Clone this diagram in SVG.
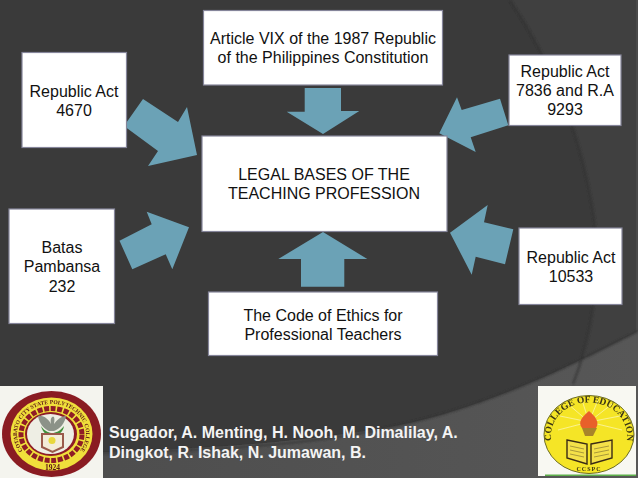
<svg xmlns="http://www.w3.org/2000/svg" width="638" height="478" viewBox="0 0 638 478">
<style>
.box{fill:#fff;stroke:#85859a;stroke-width:1.2}
.t{font-family:"Liberation Sans",Arial,sans-serif;font-size:16px;fill:#111;text-anchor:middle}
.arrow{fill:#6ba2b6}
.sub{font-family:"Liberation Sans",Arial,sans-serif;font-size:16px;font-weight:bold;fill:#f4f4f4}
.seal{font-family:"Liberation Serif",serif;font-weight:bold}
.ray{stroke:#fbf5a8;stroke-width:.8}
</style>
<defs>
<linearGradient id="sw" x1="0" y1="0" x2="1" y2="0"><stop offset="0" stop-color="#4c4c4c"/><stop offset="1" stop-color="#575757"/></linearGradient>
<filter id="soft" x="-5%" y="-5%" width="110%" height="110%"><feGaussianBlur stdDeviation="0.45"/></filter>
<filter id="soft2" x="-5%" y="-5%" width="110%" height="110%"><feGaussianBlur stdDeviation="0.8"/></filter>
<path id="arcL" d="M23.200 451A34.500 30 0 1 1 79.800 451"/>
<path id="arcR" d="M553 446A38 33 0 1 1 625 446"/>
</defs>
<g id="background">
<rect width="638" height="478" fill="#3a3a3a"/>
<path d="M510 0C550 60 582 130 595 225C600 280 592 335 573 384L638 332V0Z" fill="#404040"/>
<rect x="636" y="0" width="2" height="335" fill="#4a4a4a"/>
<path d="M0 455C130 452 280 448 400 425C480 408 560 372 638 331V478H0Z" fill="url(#sw)"/>
<g filter="url(#soft2)" fill="none">
<path d="M510 0C550 60 582 130 595 225C600 280 592 335 573 384" stroke="#323232" stroke-width="1.6"/>
<path d="M100 453C240 450 330 442 400 425C480 408 560 372 638 331" stroke="#343434" stroke-width="1.6"/>
</g>
</g>
<g id="connectors">
<polygon class="arrow" points="304.700,88 341,88 341,111 359.300,111 323,134 286.700,111.700 304.700,111.700"/>
<polygon class="arrow" points="124,126 143,99 178,122 187,107 197,155 148,166 158,151"/>
<polygon class="arrow" points="119.500,240.700 151.700,224.300 146.700,211.700 189,227.300 172.300,269.300 165.700,254.300 132.300,269.300"/>
<polygon class="arrow" points="508.300,125.300 500,98.700 461.700,110 457,97.300 439.300,133.300 475.700,152 470.700,137.300"/>
<polygon class="arrow" points="513.300,229.300 484,222.300 487.700,205 450,232.700 471.700,274.700 475.700,256.700 505,264.300"/>
<polygon class="arrow" points="323,232 367.300,259 344.300,259 344.300,286.700 301,286.700 301,259 278.300,259"/>
</g>
<g id="node-article">
<rect class="box" x="203.500" y="10.500" width="239" height="74.500"/>
<text class="t" x="323" y="44">Article VIX of the 1987 Republic</text>
<text class="t" x="323" y="63">of the Philippines Constitution</text>
</g>
<g id="node-ra4670">
<rect class="box" x="22" y="52.500" width="104.500" height="95"/>
<text class="t" x="74" y="97">Republic Act</text>
<text class="t" x="74" y="116">4670</text>
</g>
<g id="node-center">
<rect class="box" x="202" y="136" width="245" height="95.500"/>
<text class="t" x="324" y="180">LEGAL BASES OF THE</text>
<text class="t" x="324" y="199">TEACHING PROFESSION</text>
</g>
<g id="node-ra7836">
<rect class="box" x="509" y="55" width="112" height="70.500"/>
<text class="t" x="565" y="77">Republic Act</text>
<text class="t" x="565" y="96">7836 and R.A</text>
<text class="t" x="565" y="115">9293</text>
</g>
<g id="node-bp232">
<rect class="box" x="9" y="209" width="105.500" height="114.500"/>
<text class="t" x="62" y="253">Batas</text>
<text class="t" x="62" y="272">Pambansa</text>
<text class="t" x="62" y="292">232</text>
</g>
<g id="node-ra10533">
<rect class="box" x="519" y="228" width="103" height="76.500"/>
<text class="t" x="571" y="263">Republic Act</text>
<text class="t" x="571" y="282">10533</text>
</g>
<g id="node-code">
<rect class="box" x="208.500" y="292" width="229" height="63.500"/>
<text class="t" x="323" y="321">The Code of Ethics for</text>
<text class="t" x="323" y="340">Professional Teachers</text>
</g>
<g id="authors">
<text class="sub" x="109" y="438">Sugador, A. Menting, H. Nooh, M. Dimalilay, A.</text>
<text class="sub" x="109" y="457.500">Dingkot, R. Ishak, N. Jumawan, B.</text>
</g>
<g id="logo-left">
<rect x="0" y="386" width="103" height="92" fill="#f4f4ee"/>
<g filter="url(#soft)">
<ellipse cx="51.500" cy="434" rx="49.500" ry="43" fill="#8a1c24"/>
<ellipse cx="51.500" cy="434" rx="41" ry="36.500" fill="#f0df3a"/>
<ellipse cx="51.500" cy="434.500" rx="30.500" ry="26" fill="none" stroke="#8f1d26" stroke-width="5" stroke-dasharray="5 1.600"/>
<ellipse cx="51" cy="434" rx="26" ry="22" fill="#8f1d26"/>
<ellipse cx="50.500" cy="434" rx="23.500" ry="20" fill="#eeeee4"/>
<path d="M38 416C44 415 49 420 51 424C50 418 52 416 54 417C55 420 54 422 54 424C57 420 61 416 66 416C65 423 60 429 54 431H49C44 429 39 423 38 416Z" fill="#8c9288"/>
<path d="M41 426C45 432 50 433 52 433C56 433 60 431 64 426C63 433 57 436 52 436C47 436 43 433 41 426Z" fill="#3f8f3a"/>
<path d="M42 434H63V447L52.500 452L42 447Z" fill="#f3ecd8" stroke="#9a5a4c" stroke-width="2"/>
<circle cx="52" cy="440.500" r="3.500" fill="#e8d83a"/>
<text class="seal" font-size="5.600" fill="#5a1418"><textPath href="#arcL" startOffset="50%" text-anchor="middle">COTABATO CITY STATE POLYTECHNIC COLLEGE</textPath></text>
<text class="seal" x="52.500" y="470" font-size="7.500" fill="#5a1418" text-anchor="middle">1924</text>
</g>
</g>
<g id="logo-right">
<rect x="538" y="386" width="98" height="90" fill="#f8f8f2"/>
<rect x="545" y="474.500" width="91" height="1.500" fill="#5cae4a"/>
<g filter="url(#soft)">
<ellipse cx="589" cy="434.500" rx="45" ry="39" fill="#f5e528" stroke="#6a6a20" stroke-width="1"/>
<g class="ray"><path d="M589 422L560 416M589 422L568 404M589 422L582 400M589 422L598 400M589 422L612 404M589 422L620 416M589 422L558 430M589 422L622 430"/></g>
<path d="M585 436L582 428H597L593 436Z" fill="#a8842a"/>
<path d="M582 428C577 422 583 416 589 411C595 416 600 422 596 428Z" fill="#e8602c"/>
<path d="M567 440L587 444V464L567 458Z" fill="#f4e04a" stroke="#3a2c14" stroke-width="1.400"/>
<path d="M591 444L612 440V458L591 464Z" fill="#f4e04a" stroke="#3a2c14" stroke-width="1.400"/>
<path d="M570 446L584 449M570 450L584 453M570 454L584 457M594 449L609 446M594 453L609 450M594 457L609 454" stroke="#8a7a30" stroke-width=".7" fill="none"/>
<text class="seal" font-size="9.500" fill="#3a3414"><textPath href="#arcR" startOffset="50%" text-anchor="middle">COLLEGE OF EDUCATION</textPath></text>
<text class="seal" x="589" y="471" font-size="6" fill="#3a3414" text-anchor="middle" letter-spacing="1">CCSPC</text>
</g>
</g>
</svg>
